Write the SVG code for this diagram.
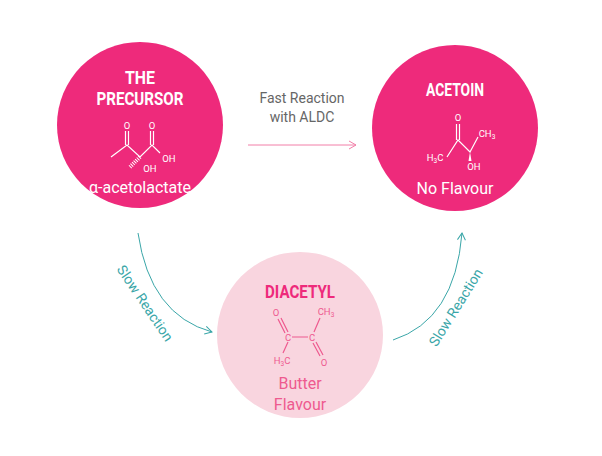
<svg xmlns="http://www.w3.org/2000/svg" width="602" height="456" viewBox="0 0 602 456">
<style>
.t{font-family:"Roboto","Liberation Sans",sans-serif;font-weight:bold;font-size:19px;text-anchor:middle}
.s{font-family:"Roboto","Liberation Sans",sans-serif;font-size:16px;text-anchor:middle}
.a{font-family:"Roboto","Liberation Sans",sans-serif;font-size:9.5px;text-anchor:middle}
.lbl{font-family:"Roboto","Liberation Sans",sans-serif;font-size:14px;text-anchor:middle;fill:#666}
.sl{font-family:"Roboto","Liberation Sans",sans-serif;font-size:14px;text-anchor:middle;fill:#3AA6A8}
.w{stroke:#fff;stroke-width:1.2;fill:none}
.p{stroke:#EE5A8F;stroke-width:1.2;fill:none}
.c{stroke:#3AA6A8;stroke-width:1;fill:none}
</style>
<defs>
<marker id="mt" markerWidth="10" markerHeight="10" refX="8" refY="5" orient="auto" markerUnits="userSpaceOnUse"><path d="M1,1 L8,5 L1,9" fill="none" stroke="#3AA6A8" stroke-width="1"/></marker>
<marker id="mp" markerWidth="10" markerHeight="10" refX="8" refY="5" orient="auto" markerUnits="userSpaceOnUse"><path d="M1,1 L8,5 L1,9" fill="none" stroke="#F27FA8" stroke-width="1"/></marker>
</defs>
<rect width="602" height="456" fill="#fff"/>
<g id="precursor">
<circle cx="140" cy="125" r="83" fill="#EE2A7B"/>
<text class="t" x="140" y="84" fill="#fff" textLength="30" lengthAdjust="spacingAndGlyphs">THE</text>
<text class="t" x="140" y="105" fill="#fff" textLength="87" lengthAdjust="spacingAndGlyphs">PRECURSOR</text>
<path class="w" d="M111,157 L127,145 L140,157 L152,145 L160,153 M125.5,145 V131 M128.5,145 V131 M150.5,145 V131 M153.5,145 V131"/>
<path d="M140,157 L130,167" stroke="#fff" stroke-width="4" stroke-dasharray="1,1.2" fill="none"/>
<text class="a" x="127" y="129" fill="#fff">O</text>
<text class="a" x="152" y="129" fill="#fff">O</text>
<text class="a" x="169" y="162" fill="#fff">OH</text>
<text class="a" x="150" y="172" fill="#fff">OH</text>
<text class="s" x="140" y="193" fill="#fff">α-acetolactate</text>
</g>
<g id="acetoin">
<circle cx="455" cy="128" r="83" fill="#EE2A7B"/>
<text class="t" x="455" y="96" fill="#fff" textLength="58" lengthAdjust="spacingAndGlyphs">ACETOIN</text>
<path class="w" d="M447,157 L458,140 L470,152 L478,137 M456.5,140 V124 M459.5,140 V124"/>
<path d="M470,152 L468.5,161 L471.5,161 Z" fill="#fff"/>
<text class="a" x="458" y="121" fill="#fff">O</text>
<text class="a" x="487" y="137" fill="#fff">CH<tspan font-size="6.5" dy="2">3</tspan></text>
<text class="a" x="435" y="161" fill="#fff">H<tspan font-size="6.5" dy="2">3</tspan><tspan dy="-2">C</tspan></text>
<text class="a" x="474" y="170" fill="#fff">OH</text>
<text class="s" x="455" y="194" fill="#fff">No Flavour</text>
</g>
<g id="diacetyl">
<circle cx="300" cy="335" r="83" fill="#F9D5DF"/>
<text class="t" x="300" y="298" fill="#EE2A7B" textLength="70" lengthAdjust="spacingAndGlyphs">DIACETYL</text>
<path class="p" d="M285,333 L278,319 M288,332 L281,318 M292,337 H308 M314,332 L320,318 M288,342 L283,353 M313,343 L320,356 M316,342 L323,355"/>
<text class="a" x="288" y="341" fill="#EE5A8F">C</text>
<text class="a" x="312" y="341" fill="#EE5A8F">C</text>
<text class="a" x="276" y="316" fill="#EE5A8F">O</text>
<text class="a" x="326" y="315" fill="#EE5A8F">CH<tspan font-size="6.5" dy="2">3</tspan></text>
<text class="a" x="282" y="364" fill="#EE5A8F">H<tspan font-size="6.5" dy="2">3</tspan><tspan dy="-2">C</tspan></text>
<text class="a" x="324" y="366" fill="#EE5A8F">O</text>
<text class="s" x="300" y="389" fill="#EE5A8F">Butter</text>
<text class="s" x="300" y="410" fill="#EE5A8F">Flavour</text>
</g>
<g id="connectors">
<path d="M248,145 H356" stroke="#F27FA8" stroke-width="1" fill="none" marker-end="url(#mp)"/>
<path class="c" d="M138,233 Q150,315 212,332" marker-end="url(#mt)"/>
<path class="c" d="M393,340 Q455,320 462,233" marker-end="url(#mt)"/>
</g>
<text class="lbl" x="302" y="103">Fast Reaction</text>
<text class="lbl" x="302" y="122">with ALDC</text>
<text class="sl" x="0" y="0" transform="translate(141,306) rotate(56)">Slow Reaction</text>
<text class="sl" x="0" y="0" transform="translate(460,310) rotate(-58)">Slow Reaction</text>
</svg>
